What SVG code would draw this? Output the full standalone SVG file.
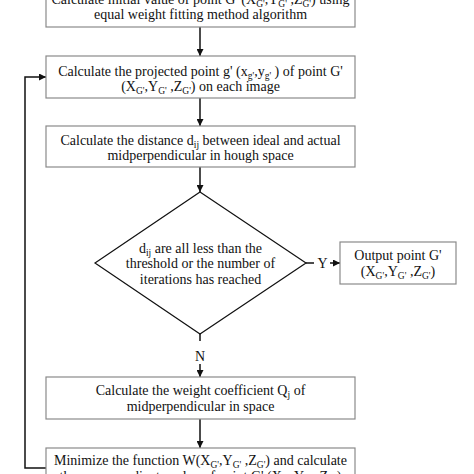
<svg xmlns="http://www.w3.org/2000/svg" width="474" height="474" viewBox="0 0 474 474">
<style>
.box{fill:#fff;stroke:#8a8a8a;stroke-width:1.2}
.dia{fill:#fff;stroke:#111;stroke-width:1.2}
.ln{fill:none;stroke:#111;stroke-width:1.5}
text{font-family:"Liberation Serif","Times New Roman",serif;font-size:14px;fill:#111;text-anchor:middle}
.s{font-size:9.5px}
</style>
<defs>
<marker id="ah" viewBox="0 0 10 10" refX="10" refY="5" markerWidth="7" markerHeight="7" markerUnits="userSpaceOnUse" orient="auto">
<path d="M0,0 L10,5 L0,10 z" fill="#111"/>
</marker>
</defs>
<rect width="474" height="474" fill="#fff"/>
<g id="connectors">
<line class="ln" x1="200" y1="27" x2="200" y2="56" marker-end="url(#ah)"/>
<line class="ln" x1="200" y1="98" x2="200" y2="126" marker-end="url(#ah)"/>
<line class="ln" x1="200" y1="167" x2="200" y2="192" marker-end="url(#ah)"/>
<line class="ln" x1="200" y1="334" x2="200" y2="341"/>
<text x="200" y="361">N</text>
<line class="ln" x1="200" y1="364" x2="200" y2="377" marker-end="url(#ah)"/>
<line class="ln" x1="200" y1="419" x2="200" y2="448" marker-end="url(#ah)"/>
<line class="ln" x1="306" y1="263" x2="314" y2="263"/>
<text x="322.5" y="268">Y</text>
<line class="ln" x1="330" y1="263" x2="340" y2="263" marker-end="url(#ah)"/>
<polyline class="ln" points="46,468 25,468 25,77 46,77" marker-end="url(#ah)"/>
</g>
<g id="n1">
<rect class="box" x="46" y="-20" width="309" height="47"/>
<text x="200.5" y="4">Calculate initial value of point G' (X<tspan class="s" dy="3">G'</tspan><tspan dy="-3">,Y</tspan><tspan class="s" dy="3">G'</tspan><tspan dy="-3"> ,Z</tspan><tspan class="s" dy="3">G'</tspan><tspan dy="-3">) using</tspan></text>
<text x="200.5" y="18.5">equal weight fitting method algorithm</text>
</g>
<g id="n2">
<rect class="box" x="46" y="56" width="309" height="42"/>
<text x="200.5" y="75.5">Calculate the projected point g' (x<tspan class="s" dy="3">g'</tspan><tspan dy="-3">,y</tspan><tspan class="s" dy="3">g'</tspan><tspan dy="-3"> ) of point G'</tspan></text>
<text x="200.5" y="90.5">(X<tspan class="s" dy="3">G'</tspan><tspan dy="-3">,Y</tspan><tspan class="s" dy="3">G'</tspan><tspan dy="-3"> ,Z</tspan><tspan class="s" dy="3">G'</tspan><tspan dy="-3">) on each image</tspan></text>
</g>
<g id="n3">
<rect class="box" x="46" y="126" width="309" height="41"/>
<text x="200.5" y="144.5">Calculate the distance d<tspan class="s" dy="3">ij</tspan><tspan dy="-3"> between ideal and actual</tspan></text>
<text x="200.5" y="159.5">midperpendicular in hough space</text>
</g>
<g id="n4">
<polygon class="dia" points="200,192 306,263 200,334 95,263"/>
<text x="200.5" y="252.5">d<tspan class="s" dy="3">ij</tspan><tspan dy="-3"> are all less than the</tspan></text>
<text x="200.5" y="268">threshold or the number of</text>
<text x="200.5" y="284">iterations has reached</text>
</g>
<g id="n5">
<rect class="box" x="340" y="242" width="116" height="42"/>
<text x="398" y="260">Output point G'</text>
<text x="398" y="276">(X<tspan class="s" dy="3">G'</tspan><tspan dy="-3">,Y</tspan><tspan class="s" dy="3">G'</tspan><tspan dy="-3"> ,Z</tspan><tspan class="s" dy="3">G'</tspan><tspan dy="-3">)</tspan></text>
</g>
<g id="n6">
<rect class="box" x="46" y="377" width="309" height="42"/>
<text x="200.5" y="395">Calculate the weight coefficient Q<tspan class="s" dy="3">j</tspan><tspan dy="-3"> of</tspan></text>
<text x="200.5" y="411">midperpendicular in space</text>
</g>
<g id="n7">
<rect class="box" x="46" y="448" width="309" height="45"/>
<text x="200.5" y="465">Minimize the function W(X<tspan class="s" dy="3">G'</tspan><tspan dy="-3">,Y</tspan><tspan class="s" dy="3">G'</tspan><tspan dy="-3"> ,Z</tspan><tspan class="s" dy="3">G'</tspan><tspan dy="-3">) and calculate</tspan></text>
<text x="200.5" y="481">the new coordinate value of point G' (X<tspan class="s" dy="3">G'</tspan><tspan dy="-3">,Y</tspan><tspan class="s" dy="3">G'</tspan><tspan dy="-3"> ,Z</tspan><tspan class="s" dy="3">G'</tspan><tspan dy="-3">)</tspan></text>
</g>
</svg>
